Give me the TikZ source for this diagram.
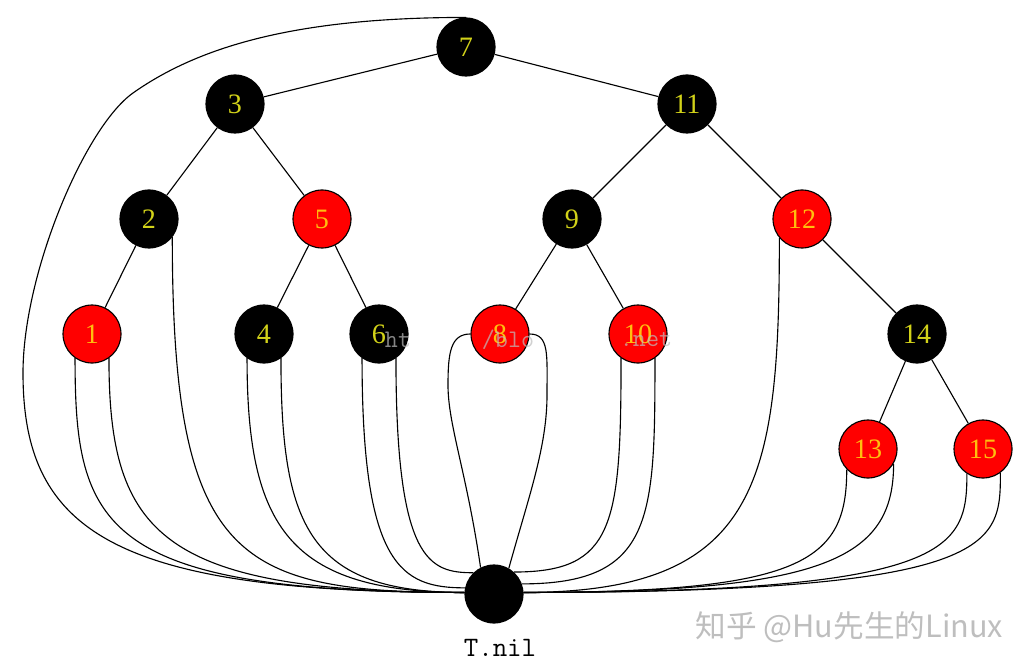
\documentclass[tikz,border=0pt]{standalone}
\usepackage{fontspec}
\newfontfamily\zhfont{Noto Sans CJK SC}
\newfontfamily\digitfont{Liberation Serif}
\definecolor{digityellow}{RGB}{210,210,25}
\definecolor{digitorange}{RGB}{255,190,15}
\definecolor{markgray}{RGB}{190,190,190}
\tikzstyle{every node}+=[inner sep=0mm,node distance=2.875cm]
\tikzstyle{every path}+=[line width=0.8pt]
\tikzstyle{blacknode}=[circle,draw,fill=black,minimum size=1.45cm,text=digityellow,font=\digitfont\fontsize{20}{24}\selectfont]
\tikzstyle{rednode}=[circle,draw,fill=red,minimum size=1.45cm,text=digitorange,font=\digitfont\fontsize{20}{24}\selectfont]
\tikzstyle{urlmark}=[text=markgray,opacity=0.7,font=\ttfamily\fontsize{18}{22}\selectfont]
\begin{document}
\begin{tikzpicture}
\useasboundingbox (0,0) rectangle (25.725,-16.75);

\node[blacknode] (7) at (11.65,-1.175) {7};
\node[blacknode,below of=7,node distance=1.425cm,xshift=-5.775cm] (3) {3};
\node[blacknode,below of=7,node distance=1.425cm,xshift=5.525cm] (11) {11};
\node[blacknode,below of=3,xshift=-2.15cm] (2) {2};
\node[rednode,below of=3,xshift=2.175cm] (5) {5};
\node[blacknode,below of=11,xshift=-2.875cm] (9) {9};
\node[rednode,below of=11,xshift=2.875cm] (12) {12};
\node[rednode,below of=2,xshift=-1.425cm] (1) {1};
\node[blacknode,below of=5,xshift=-1.45cm] (4) {4};
\node[blacknode,below of=5,xshift=1.425cm] (6) {6};
\node[rednode,below of=9,xshift=-1.8cm] (8) {8};
\node[rednode,below of=9,xshift=1.65cm] (10) {10};
\node[blacknode,below of=12,xshift=2.875cm] (14) {14};
\node[rednode,below of=14,xshift=-1.225cm] (13) {13};
\node[rednode,below of=14,xshift=1.65cm] (15) {15};
\node[circle,draw,fill=black,minimum size=1.45cm,below of=8,node distance=6.5cm,xshift=-0.15cm] (nil) {};
\node[below of=nil,node distance=1.35cm,xshift=0.15cm,font=\ttfamily\fontsize{20}{22}\selectfont] (nillabel) {T.nil};

\node[urlmark] (url1) at (9.95,-8.5) {ht};
\node[urlmark] (url2) at (12.7,-8.5) {/blo};
\node[urlmark] (url3) at (16.15,-8.5) {.net};
\node[text=markgray,font=\zhfont\fontsize{21.8}{24}\selectfont] (zhihu) at (21.23,-15.68) {知乎 @Hu先生的Linux};

\coordinate (c7t) at (3.325,-2.325);
\coordinate (c7) at (0.575,-9.325);
\coordinate (c8l) at (11.2,-9.625);
\coordinate (c8r) at (13.675,-9.875);

\draw (7) edge (3);
\draw (7) edge (11);
\draw (3) edge (2);
\draw (3) edge (5);
\draw (11) edge (9);
\draw (11) edge (12);
\draw (2) edge (1);
\draw (5) edge (4);
\draw (5) edge (6);
\draw (9) edge (8);
\draw (9) edge (10);
\draw (12) edge (14);
\draw (14) edge (13);
\draw (14) edge (15);

\draw (7.north) .. controls +(-4.15,0) and +(1.7,1.2) .. (c7t) .. controls +(-1.2,-0.85) and +(0,2.5) .. (c7) .. controls +(0,-4) and +(-8.7,0) .. (nil.177);
\draw (1.235) .. controls +(0,-4.2) and +(-9.1,0) .. (nil.177);
\draw (1.305) .. controls +(0,-4.4) and +(-7.6,0) .. (nil.177);
\draw (2.-38) .. controls +(0,-8.1) and +(-5.7,0) .. (nil.177);
\draw (4.235) .. controls +(0,-4.2) and +(-4.4,0) .. (nil.177);
\draw (4.305) .. controls +(0,-4.2) and +(-3.9,0) .. (nil.177);
\draw (6.235) .. controls +(0,-5.2) and +(-1.6,0) .. (nil.168);
\draw (6.305) .. controls +(0,-5.1) and +(-1.1,0) .. (nil.134);
\draw (8.180) .. controls +(-0.5,0) and +(0,0.8) .. (c8l) .. controls +(0,-1) and +(-0.35,2.4) .. (nil.117);
\draw (8.0) .. controls +(0.5,0) and +(0,1) .. (c8r) .. controls +(0,-1.3) and +(0.5,1.8) .. (nil.60);
\draw (10.235) .. controls +(0,-4.2) and +(2.5,0) .. (nil.48);
\draw (10.305) .. controls +(0,-4) and +(3.3,0) .. (nil.20);
\draw (12.-140) .. controls +(0,-6.1) and +(5.9,0) .. (nil.3);
\draw (13.224) .. controls +(0,-2.3) and +(7,0) .. (nil.3);
\draw (13.-30) .. controls +(0,-2.4) and +(7.5,0) .. (nil.3);
\draw (15.237) .. controls +(0,-1.9) and +(10.7,0) .. (nil.3);
\draw (15.-54) .. controls +(0,-1.8) and +(11.9,0) .. (nil.3);
\end{tikzpicture}
\end{document}
